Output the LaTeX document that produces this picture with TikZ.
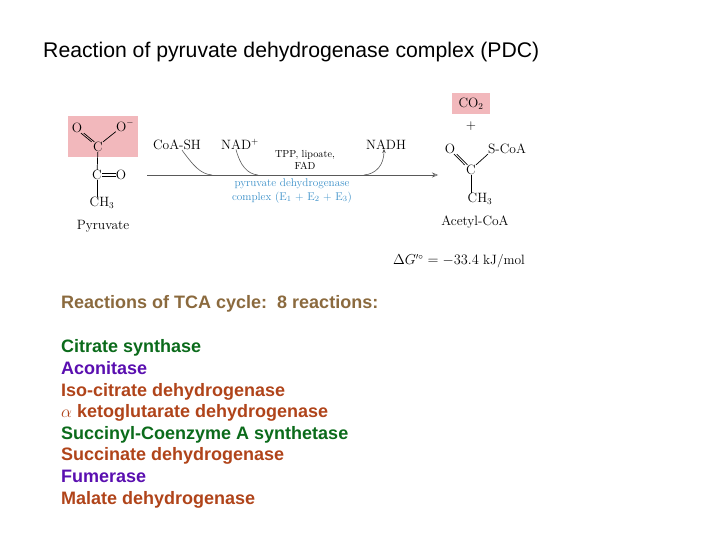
\documentclass[tikz,border=0pt]{standalone}
\usepackage{fontspec}
\newfontfamily\arial{Liberation Sans}
\usetikzlibrary{arrows.meta}
\definecolor{pinkbox}{HTML}{F2B8BC}
\definecolor{brn}{HTML}{8B6A3E}
\definecolor{grn}{HTML}{0B6B1B}
\definecolor{pur}{HTML}{5A0FB0}
\definecolor{rbr}{HTML}{B0441A}
\definecolor{enz}{HTML}{3A8FC8}
\begin{document}
\begin{tikzpicture}[x=1pt,y=-1pt,
  chem/.style={inner sep=0pt,font=\fontsize{13.5}{15}\selectfont},
  small/.style={inner sep=0pt,font=\fontsize{10.2}{12.5}\selectfont,align=center},
  item/.style={anchor=base west,inner sep=0pt,font=\arial\bfseries\fontsize{18}{20}\selectfont},
  bond/.style={line width=0.7pt},
  lnk/.style={line width=0.6pt,gray!70!black}]
\useasboundingbox (0,0) rectangle (720,540);
\node[anchor=west,inner sep=0pt,font=\arial\fontsize{21.2}{23}\selectfont] (title) at (43,52) {Reaction of pyruvate dehydrogenase complex (PDC)};
% pyruvate
\fill[pinkbox] (68,116) rectangle (138,157);
\node[chem] (o1) at (77,128) {O};
\node[chem] (o2) at (125,126) {O$^-$};
\node[chem] (c1) at (98,147) {C};
\node[chem] (c2) at (97,175) {C};
\node[chem] (o3) at (121,175) {O};
\node[chem] (ch3) at (102,203) {CH$_3$};
\node[chem] (pyr) at (103,226) {Pyruvate};
\draw[bond] ([xshift=-1.4]c1.north west) -- ([xshift=-1.4]o1.south east);
\draw[bond] ([xshift=1.4]c1.north west) -- ([xshift=1.4]o1.south east);
\draw[bond] (c1.north east) -- (o2.south west);
\draw[bond] (c1) -- (c2);
\draw[bond] ([yshift=-1.4]c2.east) -- ([yshift=-1.4]o3.west);
\draw[bond] ([yshift=1.4]c2.east) -- ([yshift=1.4]o3.west);
\draw[bond] (c2) -- (c2 |- ch3.north);
% arrow
\coordinate (as) at (147,175);
\coordinate (ae) at (438,175);
\draw[lnk,-{Stealth[length=6pt,width=5pt,open]}] (as) -- (ae);
\node[chem] (coa) at (177,145) {CoA-SH};
\node[chem] (nad) at (240,144) {NAD$^+$};
\node[small] (tpp) at (305,160) {TPP, lipoate,\\FAD};
\node[chem] (nadh) at (386,145) {NADH};
\coordinate (j1) at (212,175);
\coordinate (j2) at (258,175);
\coordinate (j3) at (364,175);
\draw[lnk] ([xshift=5]coa.south) .. controls (193,165) and (200,174) .. (j1);
\draw[lnk] ([xshift=-4]nad.south) .. controls (240,165) and (247,174) .. (j2);
\draw[lnk,-{Stealth[length=4pt,width=3.5pt]}] (j3) .. controls (376,174) and (384,165) .. ([xshift=-2,yshift=1]nadh.south);
\node[small,text=enz,font=\fontsize{11.2}{13.5}\selectfont] (pdc) at (292,191) {pyruvate dehydrogenase\\complex (E$_1$ + E$_2$ + E$_3$)};
% products
\fill[pinkbox] (452,93) rectangle (490,114);
\node[chem] (co2) at (471,104) {CO$_2$};
\node[chem] (plus) at (471,126) {+};
\node[chem] (o4) at (450,149) {O};
\node[chem] (scoa) at (507,149) {S-CoA};
\node[chem] (c3) at (471,170) {C};
\node[chem] (ch3b) at (480,199) {CH$_3$};
\node[chem] (acoa) at (475,222) {Acetyl-CoA};
\draw[bond] ([xshift=-1.4]c3.north west) -- ([xshift=-1.4]o4.south east);
\draw[bond] ([xshift=1.4]c3.north west) -- ([xshift=1.4]o4.south east);
\draw[bond] (c3.north east) -- (scoa.south west);
\draw[bond] (c3) -- (c3 |- ch3b.north);
\node[chem] (dg) at (459,261) {$\Delta G'^\circ = -33.4$ kJ/mol};
% list
\node[item,text=brn] (head) at (61,308) {Reactions of TCA cycle:\ \ 8 reactions:};
\node[item,text=grn] (r1) at (61,352) {Citrate synthase};
\node[item,text=pur] (r2) at (61,374) {Aconitase};
\node[item,text=rbr] (r3) at (61,396) {Iso-citrate dehydrogenase};
\node[item,text=rbr] (r4) at (61,417) {$\alpha$ ketoglutarate dehydrogenase};
\node[item,text=grn] (r5) at (61,439) {Succinyl-Coenzyme A synthetase};
\node[item,text=rbr] (r6) at (61,460) {Succinate dehydrogenase};
\node[item,text=pur] (r7) at (61,482) {Fumerase};
\node[item,text=rbr] (r8) at (61,504) {Malate dehydrogenase};
\end{tikzpicture}
\end{document}
